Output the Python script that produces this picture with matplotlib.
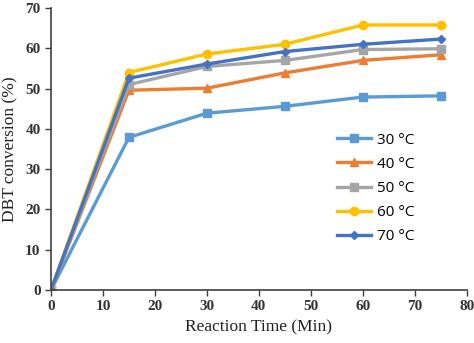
import matplotlib
matplotlib.use('Agg')
import matplotlib.pyplot as plt

times = [0, 15, 30, 45, 60, 75]
conv_30 = [0, 37.9, 43.9, 45.6, 47.9, 48.2]
conv_40 = [0, 49.6, 50.1, 53.9, 57.0, 58.4]
conv_50 = [0, 51.0, 55.5, 57.0, 59.7, 59.9]
conv_60 = [0, 54.0, 58.6, 61.0, 65.8, 65.8]
conv_70 = [0, 52.6, 56.1, 59.2, 61.0, 62.3]
labels = ['30 °C', '40 °C', '50 °C', '60 °C', '70 °C']

series = [conv_30, conv_40, conv_50, conv_60, conv_70]
colors = ['#5B9BD5', '#ED7D31', '#A5A5A5', '#FFC000', '#4472C4']
markers = ['s', '^', 's', 'o', 'D']
msizes = [6, 6, 5.5, 6, 4.5]

fig = plt.figure(figsize=(4.74, 3.43), dpi=100)
ax = fig.add_axes([0.1076, 0.1545, 0.877, 0.822])

for vals, c, m, ms, lab in zip(series, colors, markers, msizes, labels):
    ax.plot(times, vals, color=c, marker=m, markersize=ms, linewidth=2.4, label=lab)

ax.set_xlim(0, 80)
ax.set_ylim(0, 70)
ax.set_xticks(range(0, 81, 10))
ax.set_yticks(range(0, 71, 10))
for side in ['top', 'right']:
    ax.spines[side].set_visible(False)
for side in ['left', 'bottom']:
    ax.spines[side].set_color('#404040')
    ax.spines[side].set_linewidth(1.2)
ax.tick_params(direction='out', length=4, color='#404040', width=1.0)
for t in ax.get_xticklabels() + ax.get_yticklabels():
    t.set_fontfamily('Liberation Serif')
    t.set_fontweight('bold')
    t.set_fontsize(11)
    t.set_color('#333333')

ax.set_xlabel('Reaction Time (Min)', family='Liberation Serif', fontsize=12.5, color='#222222', labelpad=4)
ax.set_ylabel('DBT conversion (%)', family='Liberation Serif', fontsize=12.5, color='#222222', labelpad=5)

leg = ax.legend(loc='upper left', bbox_to_anchor=(0.655, 0.607), frameon=False,
                prop={'family': 'Open Sans', 'size': 11}, handlelength=2.2,
                labelspacing=0.6, handletextpad=0.4)

fig.savefig('out.png', dpi=100)
